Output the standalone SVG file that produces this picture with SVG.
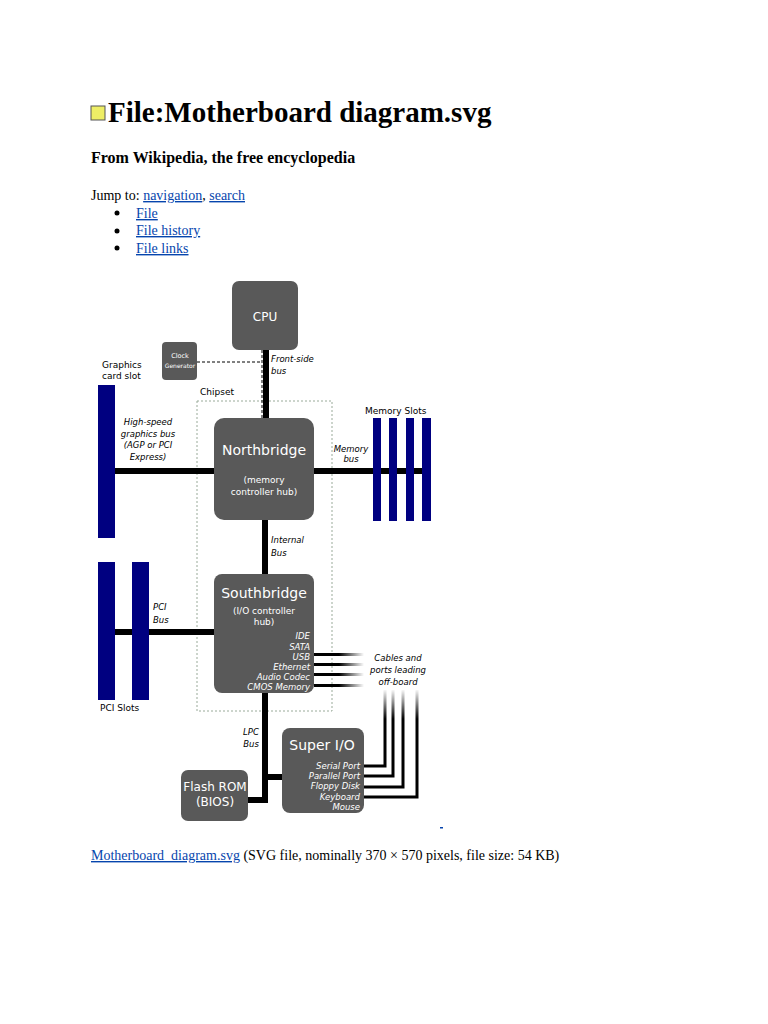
<svg xmlns="http://www.w3.org/2000/svg" width="768" height="1024" viewBox="0 0 768 1024">
<style>
.s{font-family:"Liberation Serif",serif;fill:#000}
.a{fill:#0645ad;text-decoration:underline}
.box{fill:#595959}
.w{font-family:"DejaVu Sans",sans-serif;fill:#fff;text-anchor:middle}
.k{font-family:"DejaVu Sans",sans-serif;fill:#000}
.i{font-style:italic}
.slot{fill:#000080}
.bus{stroke:#000;fill:none}
</style>
<defs>
<linearGradient id="fh" x1="0" x2="1"><stop offset="0.5" stop-color="#000"/><stop offset="1" stop-color="#000" stop-opacity="0"/></linearGradient>
<linearGradient id="fv" x1="0" y1="0" x2="0" y2="1"><stop offset="0" stop-color="#fff"/><stop offset="1" stop-color="#fff" stop-opacity="0"/></linearGradient>
</defs>
<rect width="768" height="1024" fill="#fff"/>
<rect x="91" y="106" width="14" height="14" fill="#ee6" stroke="#555"/>
<text class="s" x="108" y="122" font-size="29" font-weight="bold">File:Motherboard diagram.svg</text>
<text class="s" x="91" y="163" font-size="16" font-weight="bold">From Wikipedia, the free encyclopedia</text>
<text class="s" x="91" y="200" font-size="14">Jump to: <tspan class="a">navigation</tspan>, <tspan class="a">search</tspan></text>
<g font-size="14" class="s"><circle cx="117" cy="213" r="2.5"/><circle cx="117" cy="231" r="2.5"/><circle cx="117" cy="248" r="2.5"/>
<text x="136" y="218" class="s a">File</text><text x="136" y="235" class="s a">File history</text><text x="136" y="253" class="s a">File links</text></g>
<g id="connectors">
<rect x="197" y="401" width="135" height="310" fill="none" stroke="#9a9" stroke-dasharray="2,2"/>
<line class="bus" x1="197" y1="362" x2="262" y2="362" stroke-dasharray="3,2" stroke-width="1"/>
<line class="bus" x1="262" y1="350" x2="262" y2="418" stroke-dasharray="3,2" stroke-width="1"/>
<line class="bus" x1="266" y1="350" x2="266" y2="418" stroke-width="6"/>
<line class="bus" x1="115" y1="471" x2="431" y2="471" stroke-width="6"/>
<line class="bus" x1="265" y1="520" x2="265" y2="574" stroke-width="6"/>
<line class="bus" x1="115" y1="632" x2="214" y2="632" stroke-width="6"/>
<g fill="url(#fh)"><rect x="314" y="653" width="50" height="3"/><rect x="314" y="663" width="50" height="3"/><rect x="314" y="673" width="50" height="3"/><rect x="314" y="684" width="50" height="3"/></g>
<path class="bus" d="M265 693V800H248" stroke-width="6"/>
<line class="bus" x1="265" y1="777" x2="282" y2="777" stroke-width="6"/>
<path class="bus" d="M364 766H385V690M364 776H393V690M364 787H403V690M364 797H417V690" stroke-width="3"/>
<rect x="380" y="689" width="42" height="30" fill="url(#fv)"/>
</g>
<g id="cpu"><rect class="box" x="232" y="281" width="66" height="69" rx="7"/><text class="w" x="265" y="321" font-size="12">CPU</text></g>
<g id="clock"><rect class="box" x="162" y="342" width="35" height="38" rx="4"/><text class="w" x="180" y="358" font-size="6.5">Clock</text><text class="w" x="180" y="368" font-size="6">Generator</text></g>
<g id="northbridge"><rect class="box" x="214" y="418" width="100" height="102" rx="10"/><text class="w" x="264" y="455" font-size="14">Northbridge</text><text class="w" x="264" y="483" font-size="9">(memory</text><text class="w" x="264" y="495" font-size="9">controller hub)</text></g>
<g id="southbridge"><rect class="box" x="214" y="574" width="100" height="119" rx="8"/><text class="w" x="264" y="598" font-size="14">Southbridge</text><text class="w" x="264" y="614" font-size="9">(I/O controller</text><text class="w" x="264" y="625" font-size="9">hub)</text>
<g class="w i" style="text-anchor:end" font-size="8.5"><text x="310" y="639">IDE</text><text x="310" y="650">SATA</text><text x="310" y="660">USB</text><text x="310" y="670">Ethernet</text><text x="310" y="680">Audio Codec</text><text x="310" y="690">CMOS Memory</text></g></g>
<g id="superio"><rect class="box" x="282" y="728" width="82" height="85" rx="8"/><text class="w" x="322" y="750" font-size="14">Super I/O</text>
<g class="w i" style="text-anchor:end" font-size="8.5"><text x="360" y="769">Serial Port</text><text x="360" y="779">Parallel Port</text><text x="360" y="789">Floppy Disk</text><text x="360" y="800">Keyboard</text><text x="360" y="810">Mouse</text></g></g>
<g id="flash"><rect class="box" x="181" y="770" width="67" height="51" rx="7"/><text class="w" x="215" y="791" font-size="12">Flash ROM</text><text class="w" x="215" y="806" font-size="12">(BIOS)</text></g>
<g id="graphics-slot"><rect class="slot" x="98" y="385" width="17" height="153"/></g>
<g id="memory-slots"><rect class="slot" x="373" y="418" width="8" height="103"/><rect class="slot" x="389" y="418" width="8" height="103"/><rect class="slot" x="406" y="418" width="8" height="103"/><rect class="slot" x="422" y="418" width="9" height="103"/></g>
<g id="pci-slots"><rect class="slot" x="98" y="562" width="17" height="138"/><rect class="slot" x="132" y="562" width="17" height="138"/></g>
<g class="k" font-size="9">
<text x="102" y="368">Graphics</text><text x="102" y="379">card slot</text>
<text x="200" y="395">Chipset</text>
<text x="365" y="414">Memory Slots</text>
<text x="100" y="711">PCI Slots</text>
</g>
<g class="k i" font-size="8.5">
<text x="271" y="362">Front-side</text><text x="271" y="374">bus</text>
<g text-anchor="middle"><text x="148" y="425">High-speed</text><text x="148" y="437">graphics bus</text><text x="148" y="448">(AGP or PCI</text><text x="148" y="460">Express)</text>
<text x="351" y="452">Memory</text><text x="351" y="462">bus</text>
<text x="398" y="661">Cables and</text><text x="398" y="673">ports leading</text><text x="398" y="685">off-board</text>
<text x="251" y="735">LPC</text><text x="251" y="747">Bus</text></g>
<text x="271" y="543">Internal</text><text x="271" y="556">Bus</text>
<text x="153" y="610">PCI</text><text x="153" y="623">Bus</text>
</g>
<rect x="440" y="827" width="3" height="1.5" fill="#0645ad"/>
<text class="s" x="91" y="860" font-size="14"><tspan class="a">Motherboard_diagram.svg</tspan> (SVG file, nominally 370 × 570 pixels, file size: 54 KB)</text>
</svg>
